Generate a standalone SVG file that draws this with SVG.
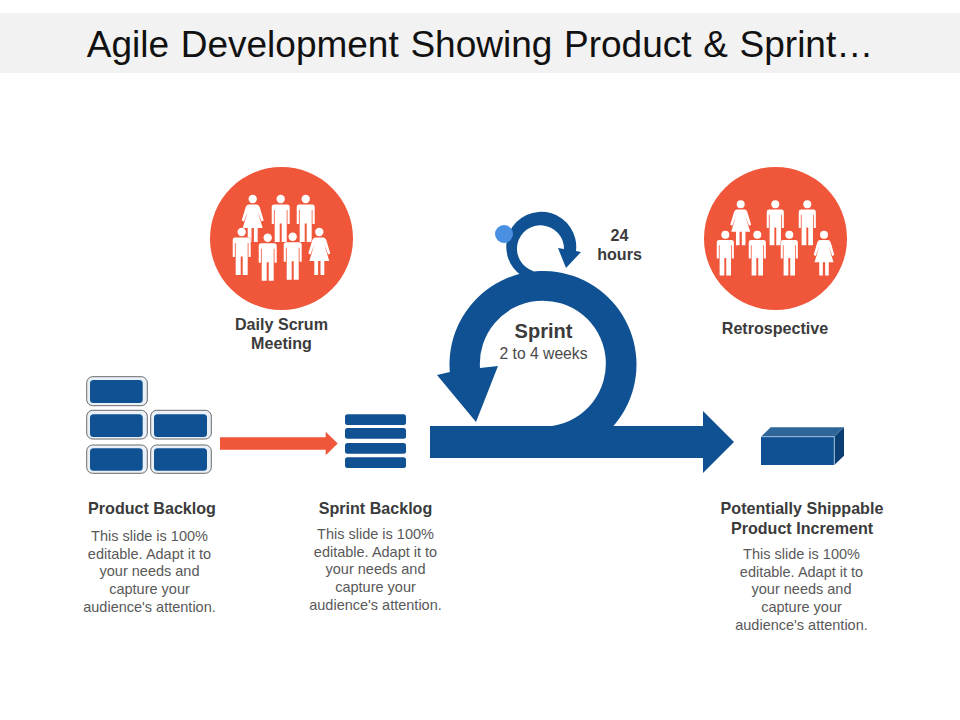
<svg xmlns="http://www.w3.org/2000/svg" width="960" height="720" viewBox="0 0 960 720">
<style>
text{font-family:"Liberation Sans",Arial,sans-serif;text-anchor:middle}
.h{font-weight:bold;font-size:16.1px;fill:#3b3b3b}
.b{font-size:14.5px;fill:#595959}
.blue{fill:#0f5192}
.red{fill:#f0563a}
.fig{fill:#fff;stroke:#f0563a;stroke-width:.8;paint-order:stroke}
.slot{fill:#e9f0f7;stroke:#6a6a6a;stroke-width:1}
</style>
<defs>
<g id="man"><circle r="4.2" class="fig"/><path class="fig" d="M-6.5 5.5H6.5Q9 5.5 9 8V25H6.8V11H6V43H1V24.5H-1V43H-6V11H-6.8V25H-9V8Q-9 5.5-6.5 5.5Z"/></g>
<g id="woman"><circle r="4.2" class="fig"/><path class="fig" d="M-4 5.5H4Q6 5.5 7 8L11 21.5L8.8 22.5L5 12.5L10 29H5V43H1.2V29H-1.2V43H-5V29H-10L-5 12.5L-8.8 22.5L-11 21.5L-7 8Q-6 5.5-4 5.5Z"/></g>
</defs>
<g id="title"><rect x="0" y="13" width="960" height="60" fill="#f2f2f2"/><text x="480" y="57" font-size="37" word-spacing="1.4" fill="#111">Agile Development Showing Product &amp; Sprint…</text></g>
<g id="connectors">
<path class="red" d="M220 437.3H325.7V431.7L337.7 443.5L325.7 455.3V449.7H220Z"/>
<path class="blue" d="M430 426H703V411L734 442L703 473V458H430Z"/>
<path class="blue" d="M611.6 428A93.5 93.5 0 1 0 449.8 372L437 375L476 422L498 366L480 368A63 63 0 1 1 552 426L570 440Z"/>
<path class="blue" d="M522 276A35 35 0 1 1 576 251L581 252L566 268L558 248L564 249A23.5 23.5 0 1 0 533 271L540 280Z"/>
<circle cx="504" cy="234" r="9" fill="#4a90e2"/>
</g>
<g id="daily-scrum"><circle cx="281.5" cy="238.5" r="71.5" class="red"/>
<use href="#woman" x="252.7" y="199"/><use href="#man" x="280.7" y="199"/><use href="#man" x="305.7" y="199"/>
<use href="#man" x="241.7" y="232"/><use href="#man" x="267.7" y="237.7"/><use href="#man" x="292.7" y="236.7"/><use href="#woman" x="319.3" y="232"/>
<text class="h" x="281.5" y="329.5">Daily Scrum</text><text class="h" x="281.5" y="348.5">Meeting</text></g>
<g id="retrospective"><circle cx="775.5" cy="238.5" r="71.5" class="red"/>
<use href="#woman" transform="translate(740.7 204.3) scale(.95)"/><use href="#man" transform="translate(775.3 204.3) scale(.95)"/><use href="#man" transform="translate(807.3 204.3) scale(.95)"/>
<use href="#man" transform="translate(725.3 234.7) scale(.95)"/><use href="#man" transform="translate(757.3 234.7) scale(.95)"/><use href="#man" transform="translate(789.3 234.7) scale(.95)"/><use href="#woman" transform="translate(824 234.7) scale(.95)"/>
<text class="h" x="775" y="333.5">Retrospective</text></g>
<g id="sprint"><text x="543.5" y="338" font-size="20" font-weight="bold" fill="#3b3b3b">Sprint</text><text x="543.5" y="358.500" font-size="15.7" fill="#4a4a4a">2 to 4 weeks</text></g>
<g id="hours"><text class="h" x="619.500" y="241">24</text><text class="h" x="619.500" y="260">hours</text></g>
<g id="product-backlog">
<rect class="slot" x="86.7" y="376.7" width="60.6" height="29" rx="6"/><rect class="blue" x="90" y="380" width="52.7" height="23" rx="3.5"/>
<rect class="slot" x="86.7" y="410.3" width="60.6" height="28.7" rx="6"/><rect class="blue" x="90" y="414.3" width="52.7" height="22.7" rx="3.5"/>
<rect class="slot" x="150.7" y="410.3" width="60.6" height="28.7" rx="6"/><rect class="blue" x="154" y="414.3" width="53" height="22.7" rx="3.5"/>
<rect class="slot" x="86.7" y="445" width="60.6" height="28.3" rx="6"/><rect class="blue" x="90" y="448.3" width="52.7" height="22.4" rx="3.5"/>
<rect class="slot" x="150.7" y="445" width="60.6" height="28.3" rx="6"/><rect class="blue" x="154" y="448.3" width="53" height="22.4" rx="3.5"/>
<text class="h" x="152" y="513.5">Product Backlog</text>
<text class="b" x="149.5" y="541">This slide is 100%</text><text class="b" x="149.5" y="559">editable. Adapt it to</text><text class="b" x="149.5" y="576">your needs and</text><text class="b" x="149.5" y="594">capture your</text><text class="b" x="149.5" y="612">audience's attention.</text></g>
<g id="sprint-backlog">
<rect class="blue" x="345" y="414.3" width="61" height="10.7" rx="2.5"/><rect class="blue" x="345" y="428" width="61" height="10.7" rx="2.5"/><rect class="blue" x="345" y="443" width="61" height="10.7" rx="2.5"/><rect class="blue" x="345" y="457.3" width="61" height="10.7" rx="2.5"/>
<text class="h" x="375.5" y="513.5">Sprint Backlog</text>
<text class="b" x="375.5" y="539">This slide is 100%</text><text class="b" x="375.5" y="557">editable. Adapt it to</text><text class="b" x="375.5" y="574">your needs and</text><text class="b" x="375.5" y="592">capture your</text><text class="b" x="375.5" y="610">audience's attention.</text></g>
<g id="increment">
<path fill="#2f6699" d="M761 436.7L770.7 427.3H844L834.3 436.7Z"/><path fill="#0b3f73" d="M834.3 436.7L844 427.3V455.7L834.3 465Z"/><rect class="blue" x="761" y="436.7" width="73.3" height="28.3"/>
<path d="M761 436.7H834.3V465" fill="none" stroke="#bcd4ea" stroke-width=".8"/>
<text class="h" x="802" y="513.5">Potentially Shippable</text><text class="h" x="802" y="533.5">Product Increment</text>
<text class="b" x="801.5" y="559">This slide is 100%</text><text class="b" x="801.5" y="577">editable. Adapt it to</text><text class="b" x="801.5" y="594">your needs and</text><text class="b" x="801.5" y="612">capture your</text><text class="b" x="801.5" y="630">audience's attention.</text></g>
</svg>
